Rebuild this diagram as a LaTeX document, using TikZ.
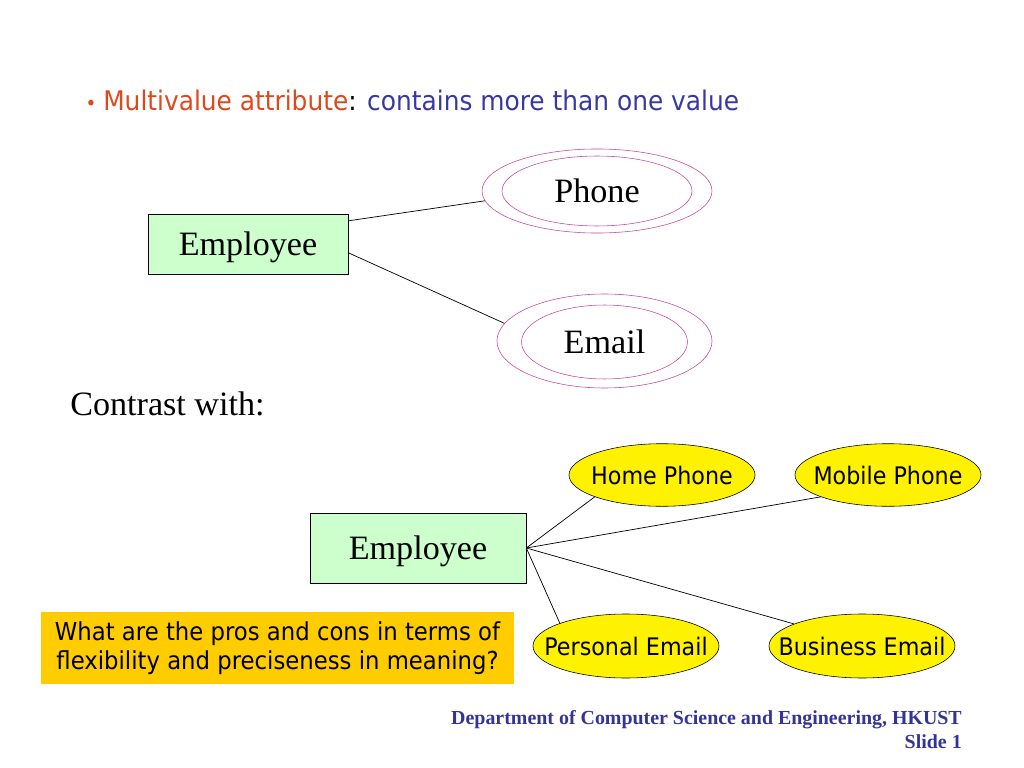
\documentclass[tikz,border=0pt]{standalone}
\usepackage{fontspec}
\setmainfont{Liberation Serif}
\setsansfont[FakeStretch=0.92]{DejaVu Sans}
\usetikzlibrary{shapes.geometric}

\definecolor{titlered}{RGB}{222,72,28}
\definecolor{titleblue}{RGB}{56,56,160}
\definecolor{multipink}{RGB}{204,70,150}
\definecolor{entitygreen}{RGB}{204,255,204}
\definecolor{questiongold}{RGB}{255,204,0}
\definecolor{footblue}{RGB}{51,51,153}

\newcommand{\attrlabel}[1]{\makebox[0pt]{#1}}

\begin{document}
\begin{tikzpicture}[
        x=0.703125pt, y=-0.703125pt,
        every node/.style={inner sep=0pt},
        entity/.style={draw, fill=entitygreen, rectangle, text depth=0pt, font=\fontsize{24}{28}\selectfont},
        multiattr/.style={draw=multipink, ellipse, font=\fontsize{24}{28}\selectfont},
        attr/.style={draw, fill=yellow, ellipse, minimum width=130.8pt, minimum height=44pt, font=\sffamily\fontsize{17}{21}\selectfont},
        footer/.style={anchor=east, text=footblue, font=\bfseries\fontsize{14}{16}\selectfont},
        link/.style={draw, line width=0.5pt}
    ]
    \useasboundingbox (0,0) rectangle (1024,768);

    % heading
    \node[anchor=base, text=titlered, font=\sffamily\fontsize{14}{16}\selectfont] (bullet) at (91,111) {•};
    \node[anchor=base west, font=\sffamily\fontsize{19}{23}\selectfont] (heading) at (103,111)
        {\textcolor{titlered}{Multivalue attribute}: \textcolor{titleblue}{contains more than one value}};

    % multivalued attributes
    \node[entity, minimum width=140.6pt, minimum height=42.2pt] (emp1) at (248,244) {Employee};
    \node[multiattr, minimum width=161.7pt, minimum height=59.1pt] (phone) at (597,191) {};
    \node[multiattr, minimum width=133.6pt, minimum height=49.2pt] (phone_in) at (597,191) {Phone};
    \node[multiattr, minimum width=151.2pt, minimum height=66.1pt] (email) at (604.5,341) {};
    \node[multiattr, minimum width=116.7pt, minimum height=52pt] (email_in) at (604.5,342) {Email};

    \draw[link] (emp1.13.5) -- (phone.185);
    \draw[link] (emp1.-5.7) -- (email.170);

    \node[anchor=west, font=\fontsize{24}{28}\selectfont] (contrast) at (70,404) {Contrast with:};

    % separate attributes
    \node[entity, minimum width=151.9pt, minimum height=49.2pt] (emp2) at (418,548) {Employee};
    \node[attr] (home) at (662,475) {\attrlabel{Home Phone}};
    \node[attr] (mobile) at (888,475) {\attrlabel{Mobile Phone}};
    \node[attr, minimum height=45pt] (personal) at (626,646) {\attrlabel{Personal Email}};
    \node[attr, minimum height=45pt] (business) at (862,646) {\attrlabel{Business Email}};

    \draw[link] (emp2.east) -- (home.198);
    \draw[link] (emp2.east) -- (mobile.198);
    \draw[link] (emp2.east) -- (personal.161);
    \draw[link] (emp2.east) -- (business.162);

    \node[fill=questiongold, minimum width=332.6pt, minimum height=50.6pt, align=center,
          font=\sffamily\fontsize{17.4}{20.5}\selectfont] (question) at (277.5,648)
        {What are the pros and cons in terms of\\flexibility and preciseness in meaning?};

    % footer
    \node[footer] (dept) at (962,720) {Department of Computer Science and Engineering, HKUST};
    \node[footer] (slide) at (962,742) {Slide 1};
\end{tikzpicture}
\end{document}
